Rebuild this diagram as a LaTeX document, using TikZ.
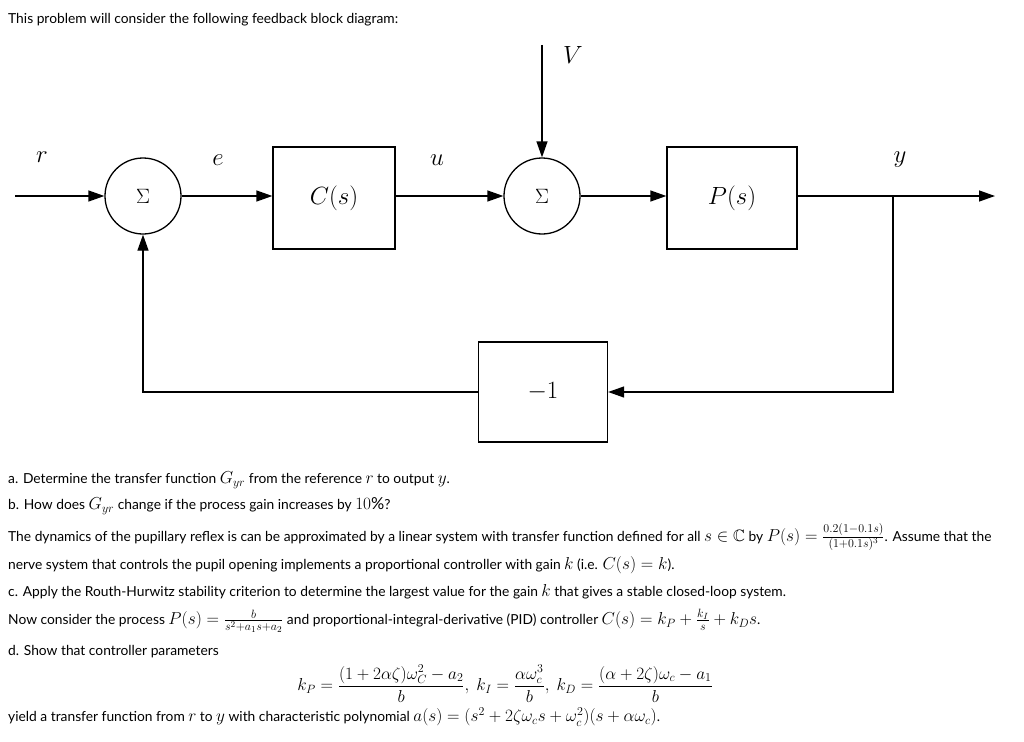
\documentclass[tikz,border=0pt]{standalone}
\usepackage{amsmath,amssymb}
\usepackage{fontspec}
\setmainfont{Lato}
\DeclareMathSizes{13.8}{16.5}{11.5}{9}
\DeclareMathSizes{16.5}{16.5}{12}{9}
\usetikzlibrary{arrows.meta}
\begin{document}
\begin{tikzpicture}[x=1pt,y=-1pt,
  blk/.style={draw,line width=1.3pt,inner sep=0},
  sum/.style={draw,circle,line width=1.3pt,minimum size=76pt,inner sep=0,font=\fontsize{20}{20}\selectfont},
  con/.style={line width=1.3pt,-{Triangle[length=16pt,width=11pt]}},
  lab/.style={font=\fontsize{26}{26}\selectfont\itshape\rmfamily},
  txt/.style={anchor=west,inner sep=0,font=\fontsize{13.8}{15}\selectfont}]
\useasboundingbox (0,0) rectangle (1024,741);
\node[txt] (t0) at (8,20) {This problem will consider the following feedback block diagram:};
\node[sum] (s1) at (143,196) {$\Sigma$};
\node[sum] (s2) at (542,196) {$\Sigma$};
\node[blk,minimum width=122pt,minimum height=102pt,font=\fontsize{32}{32}\selectfont] (C) at (334,198) {$C(s)$};
\node[blk,minimum width=130pt,minimum height=102pt,font=\fontsize{32}{32}\selectfont] (P) at (732,198) {$P(s)$};
\node[blk,minimum width=129pt,minimum height=100pt,font=\fontsize{32}{32}\selectfont] (F) at (543,392) {$-1$};
\coordinate (in) at (15,196);
\coordinate (out) at (995,196);
\coordinate (br) at (893,196);
\coordinate (v) at (542,45);
\draw[con] (in) -- (s1);
\draw[con] (s1) -- (C.west|-s1);
\draw[con] (C.east|-s2) -- (s2);
\draw[con] (s2) -- (P.west|-s2);
\draw[con] (P.east|-s2) -- (out);
\draw[con] (v) -- (s2);
\draw[con] (br) |- (F.east);
\draw[con] (F.west) -| (s1.south);
\node[lab] (lr) at (42,157) {$r$};
\node[lab] (le) at (218,160) {$e$};
\node[lab] (lu) at (437,160) {$u$};
\node[lab] (lv) at (573,55) {$V$};
\node[lab] (ly) at (900,160) {$y$};
\node[txt] (ta) at (8,480) {a. Determine the transfer function $G_{yr}$ from the reference $r$ to output $y$.};
\node[txt] (tb) at (8,506) {b. How does $G_{yr}$ change if the process gain increases by $10\%$?};
\node[txt] (tc1) at (8,537) {The dynamics of the pupillary reflex is can be approximated by a linear system with transfer function defined for all $s\in\mathbb{C}$ by $P(s)=\frac{0.2(1-0.1s)}{(1+0.1s)^3}$. Assume that the};
\node[txt] (tc2) at (8,565) {nerve system that controls the pupil opening implements a proportional controller with gain $k$ (i.e. $C(s)=k$).};
\node[txt] (tc3) at (8,592) {c. Apply the Routh-Hurwitz stability criterion to determine the largest value for the gain $k$ that gives a stable closed-loop system.};
\node[txt] (td1) at (8,621) {Now consider the process $P(s)=\frac{b}{s^2+a_1s+a_2}$ and proportional-integral-derivative (PID) controller $C(s)=k_P+\frac{k_I}{s}+k_Ds$.};
\node[txt] (td2) at (8,652) {d. Show that controller parameters};
\node[inner sep=0,font=\fontsize{16.5}{18}\selectfont] (eq) at (505,684) {$\displaystyle k_P=\frac{(1+2\alpha\zeta)\omega_C^2-a_2}{b},\ k_I=\frac{\alpha\omega_c^3}{b},\ k_D=\frac{(\alpha+2\zeta)\omega_c-a_1}{b}$};
\node[txt] (td3) at (8,717) {yield a transfer function from $r$ to $y$ with characteristic polynomial $a(s)=(s^2+2\zeta\omega_cs+\omega_c^2)(s+\alpha\omega_c)$.};
\end{tikzpicture}
\end{document}
